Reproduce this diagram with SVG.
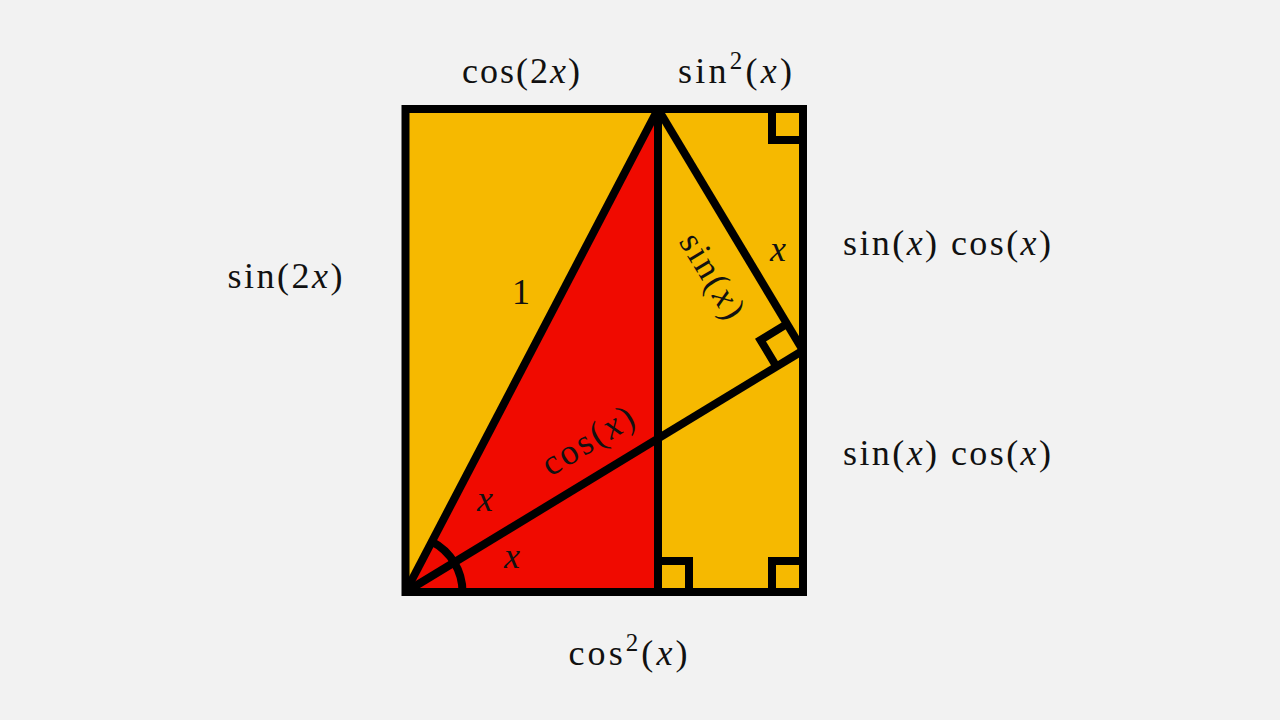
<svg xmlns="http://www.w3.org/2000/svg" width="1280" height="720" viewBox="0 0 1280 720">
<style>
.ln{fill:none;stroke:#000;stroke-width:8;stroke-linejoin:miter;stroke-linecap:butt}
.mk{fill:none;stroke:#000;stroke-width:8;stroke-linejoin:miter}
.t{font-family:"Liberation Serif","Times New Roman",serif;font-size:36px;fill:#111}
.i{font-style:italic}
.sup{font-size:25px}
</style>
<rect width="1280" height="720" fill="#F2F2F2"/>
<g id="fills">
<rect x="405.5" y="109" width="397.5" height="483" fill="#F6B900"/>
<polygon points="405.5,592 658,109 658,592" fill="#F00A00"/>
</g>
<g id="connectors">
<line class="ln" x1="405.5" y1="592" x2="658" y2="109"/>
<line class="ln" x1="658" y1="109" x2="658" y2="592"/>
<line class="ln" x1="658" y1="109" x2="803" y2="350.5"/>
<line class="ln" x1="405.5" y1="592" x2="803" y2="350.5"/>
<rect class="ln" x="405.5" y="109" width="397.5" height="483" stroke-width="9"/>
</g>
<g id="markers">
<polyline class="mk" points="772,109 772,140 803,140"/>
<polyline class="mk" points="772,592 772,561 803,561"/>
<polyline class="mk" points="658,561 689,561 689,592"/>
<polyline class="mk" points="776.5,366.6 760.5,340 787,323.9"/>
<path class="mk" d="M462.5,592 A57,57 0 0 0 431.7,541.5"/>
</g>
<g id="labels">
<text class="t" x="521" y="83" text-anchor="middle" textLength="118">cos(2<tspan class="i">x</tspan>)</text>
<text class="t" x="735" y="83" text-anchor="middle" textLength="114">sin<tspan class="sup" dy="-14">2</tspan><tspan dy="14">(</tspan><tspan class="i">x</tspan>)</text>
<text class="t" x="285" y="288" text-anchor="middle" textLength="115">sin(2<tspan class="i">x</tspan>)</text>
<text class="t" x="521" y="304" text-anchor="middle">1</text>
<text class="t" x="947" y="255" text-anchor="middle" textLength="208">sin(<tspan class="i">x</tspan>) cos(<tspan class="i">x</tspan>)</text>
<text class="t" x="947" y="465" text-anchor="middle" textLength="208">sin(<tspan class="i">x</tspan>) cos(<tspan class="i">x</tspan>)</text>
<text class="t" x="628" y="665" text-anchor="middle" textLength="119">cos<tspan class="sup" dy="-14">2</tspan><tspan dy="14">(</tspan><tspan class="i">x</tspan>)</text>
<text class="t i" x="778" y="261" text-anchor="middle">x</text>
<text class="t i" x="485" y="511" text-anchor="middle">x</text>
<text class="t i" x="512" y="568" text-anchor="middle">x</text>
<text class="t" transform="translate(712,276) rotate(59)" y="11" text-anchor="middle" textLength="94">sin(<tspan class="i">x</tspan>)</text>
<text class="t" transform="translate(588,441) rotate(-31.3)" y="11" text-anchor="middle" textLength="102">cos(<tspan class="i">x</tspan>)</text>
</g>
</svg>
